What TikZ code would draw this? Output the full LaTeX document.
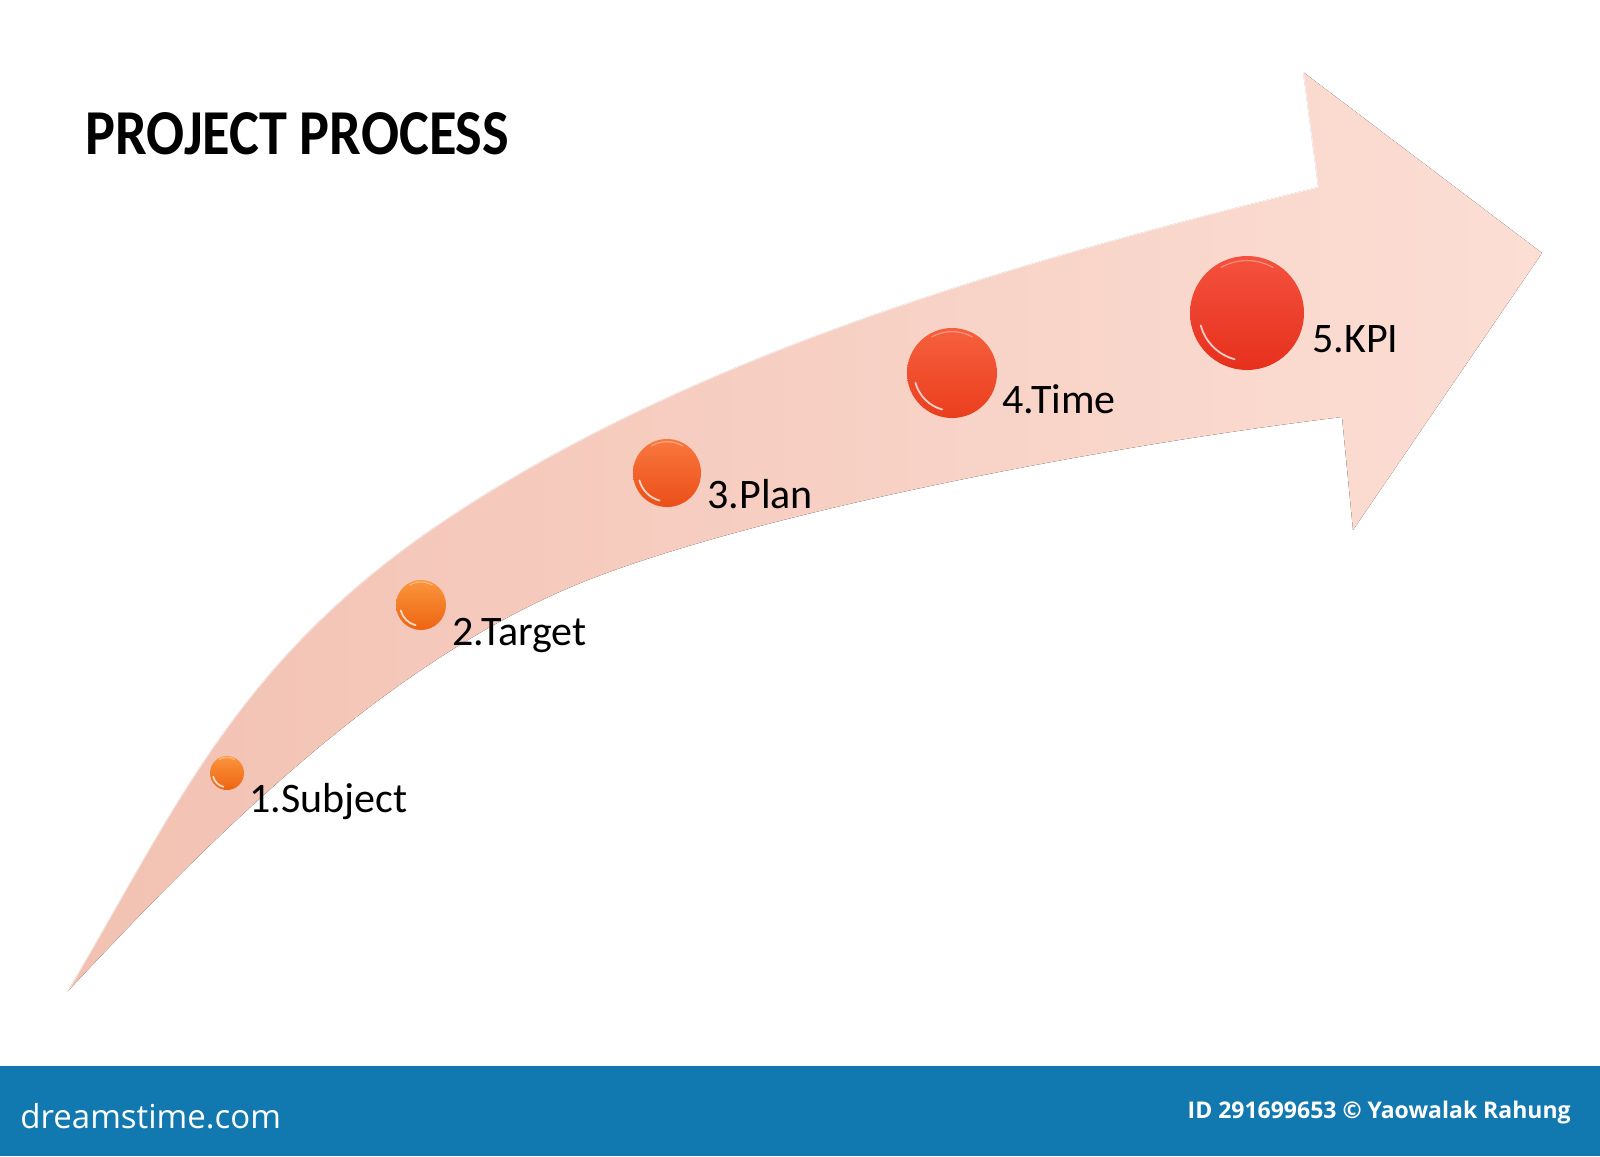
\documentclass[tikz,border=0pt]{standalone}
\usepackage{fontspec}
\setmainfont{Carlito}
\newfontfamily\bannerfont{Open Sans}
\usetikzlibrary{calc}
\definecolor{bandL}{RGB}{242,193,178}
\definecolor{bandR}{RGB}{252,222,212}
\definecolor{bannerblue}{RGB}{18,120,176}
\definecolor{ballAt}{RGB}{250,150,60}
\definecolor{ballAb}{RGB}{238,100,18}
\definecolor{ballBt}{RGB}{248,120,62}
\definecolor{ballBb}{RGB}{236,78,24}
\definecolor{ballCt}{RGB}{246,96,62}
\definecolor{ballCb}{RGB}{234,62,30}
\definecolor{ballDt}{RGB}{244,82,62}
\definecolor{ballDb}{RGB}{230,48,28}
\begin{document}
\begin{tikzpicture}[x=0.5pt,y=-0.5pt,
  ball/.style={circle, inner sep=0, draw=none},
  lbl/.style={anchor=base west, inner sep=0, text=black, font=\fontsize{21pt}{21pt}\selectfont},
  gloss/.style={white, opacity=0.75, line width=0.9pt, line cap=round}]
\useasboundingbox (0,0) rectangle (1600,1156);
\fill[white] (0,0) rectangle (1600,1156);

% curved arrow
\fill[left color=bandL, right color=bandR]
  (67,992) .. controls (179,803) and (239,654) .. (457,512)
  .. controls (709,348) and (1027,259) .. (1318,187)
  -- (1303,72) -- (1542,253) -- (1353,530) -- (1342,417)
  .. controls (1094,447) and (750,515) .. (583,582)
  .. controls (379,664) and (200,850) .. (67,992) -- cycle;
\draw[white, opacity=0.7, line width=0.7pt, line join=round]
  (67,992) .. controls (179,803) and (239,654) .. (457,512)
  .. controls (709,348) and (1027,259) .. (1318,187) -- (1303,72);

% title
\node[anchor=base west, inner sep=0, font=\bfseries\fontsize{32pt}{32pt}\selectfont] (title) at (85,155) {\scalebox{0.88}[1]{PROJECT PROCESS}};

% balls
\foreach \i/\x/\y/\r/\ct/\cb in {1/227/773/17/ballAt/ballAb, 2/421/605/25/ballAt/ballAb, 3/667/473/34/ballBt/ballBb, 4/952/373/45/ballCt/ballCb, 5/1247/313/57/ballDt/ballDb}{
  \node[ball, minimum size=\r*1pt, top color=\ct, bottom color=\cb] (c\i) at (\x,\y) {};
  \draw[gloss] ([shift={(195:0.42*\r pt)}]c\i.center) arc[start angle=195, end angle=255, radius=0.42*\r pt];
  \draw[white, opacity=0.35, line width=0.6pt] ([shift={(60:0.46*\r pt)}]c\i.center) arc[start angle=60, end angle=120, radius=0.46*\r pt];
}

% labels
\node[lbl] (l1) at (249,812) {1.Subject};
\node[lbl] (l2) at (452,645) {2.Target};
\node[lbl] (l3) at (707,508) {3.Plan};
\node[lbl] (l4) at (1002,413) {4.Time};
\node[lbl] (l5) at (1312,352) {5.KPI};

% banner
\fill[bannerblue] (0,1066) rectangle (1600,1156);
\node[anchor=base west, inner sep=0, text=white, font=\bannerfont\fontsize{16.5pt}{16.5pt}\selectfont] (site) at (20,1128) {dreamstime.com};
\node[anchor=base east, inner sep=0, text=white, font=\bannerfont\bfseries\fontsize{11.5pt}{11.5pt}\selectfont] (credit) at (1571,1118) {ID 291699653 © Yaowalak Rahung};
\end{tikzpicture}
\end{document}
